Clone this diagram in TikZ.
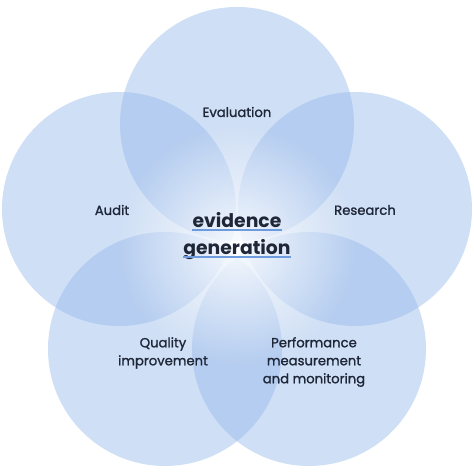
\documentclass[tikz,border=0pt]{standalone}
\usepackage{fontspec}
\setmainfont{Poppins}
\newfontfamily\labelfont{Poppins}[RawFeature={embolden=1.3}]
\usetikzlibrary{fadings}
\tikzfading[name=glowfade, inner color=transparent!0, outer color=transparent!100]
\definecolor{circ}{RGB}{150,185,235}
\definecolor{txt}{RGB}{30,38,56}
\definecolor{uline}{RGB}{110,155,220}
\begin{document}
\begin{tikzpicture}[x=1pt,y=-1pt,
  petal/.style={fill=circ,fill opacity=0.45,draw=none},
  lbl/.style={font=\labelfont\fontsize{13.2}{18}\selectfont,text=txt,align=center,inner sep=0pt},
  ctr/.style={font=\fontsize{18.8}{27}\selectfont\bfseries,text=txt,inner sep=0pt},
  under/.style={draw=uline,line width=1.1pt}]
\useasboundingbox (0,0) rectangle (474,474);
\fill[white] (0,0) rectangle (474,474);
% circles
\path[petal] (237,124) circle (117pt);
\path[petal] (119,209) circle (117pt);
\path[petal] (355,209) circle (117pt);
\path[petal] (165,349) circle (117pt);
\path[petal] (309,349) circle (117pt);
% central glow
\fill[white,path fading=glowfade,fill opacity=0.88] (237,245) circle (120pt);
% labels
\node[lbl] (eval) at (237,112) {Evaluation};
\node[lbl] (audit) at (112,210) {Audit};
\node[lbl] (res) at (365,210) {Research};
\node[lbl] (qual) at (163,353) {Quality\\improvement};
\node[lbl] (perf) at (314,362) {Performance\\measurement\\and monitoring};
\node[ctr,anchor=base] (ev) at (237,227) {evidence};
\node[ctr,anchor=base] (gen) at (237,254) {generation};
\draw[under] ([yshift=-3pt]ev.base west) -- ([yshift=-3pt]ev.base east);
\draw[under] ([yshift=-3pt]gen.base west) -- ([yshift=-3pt]gen.base east);
\end{tikzpicture}
\end{document}
